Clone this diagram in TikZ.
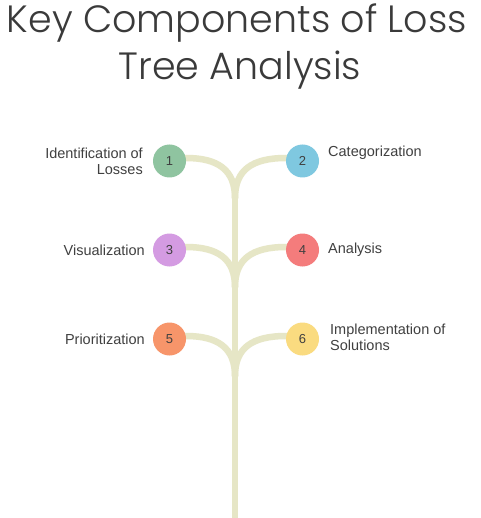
\documentclass[tikz,border=0pt]{standalone}
\usepackage{fontspec}
\setmainfont{Liberation Sans}
\newfontfamily\titlefont{Poppins}[UprightFont=* Light]
\definecolor{branchc}{HTML}{E6E6C6}
\definecolor{txtc}{HTML}{404040}
\definecolor{titlec}{HTML}{3A3A3A}
\definecolor{c1}{HTML}{8FC4A0}
\definecolor{c2}{HTML}{7FC8E0}
\definecolor{c3}{HTML}{D49BE2}
\definecolor{c4}{HTML}{F47C7C}
\definecolor{c5}{HTML}{F7956A}
\definecolor{c6}{HTML}{FADB80}
\begin{document}
\begin{tikzpicture}[x=1pt,y=-1pt,
  numc/.style={circle,minimum size=33pt,inner sep=0pt,font=\fontsize{13}{13}\selectfont,text=txtc},
  lbl/.style={font=\fontsize{14.5}{16}\selectfont,text=txtc,inner sep=0pt},
  branch/.style={draw=branchc,line width=6.5pt,line cap=round},
  ttl/.style={font=\titlefont\fontsize{38}{38}\selectfont,text=titlec,inner sep=0pt,anchor=base}]
\useasboundingbox[fill=white] (0,0) rectangle (480,518);
% title
\node[ttl] (t1) at (237,33) {Key Components of Loss};
\node[ttl] (t2) at (240,80) {Tree Analysis};
% junction coordinates
\coordinate (j1) at (235,198);
\coordinate (j2) at (235,287);
\coordinate (j3) at (235,376);
\coordinate (bot) at (235,520);
% trunk
\draw[branch,line cap=butt] (j1) -- (bot);
% branches
\foreach \y/\j in {161/j1,250/j2,339/j3}{
  \draw[branch] (186,\y-3) .. controls (218,\y-3) and (235,\y+9) .. (\j);
  \draw[branch] (286,\y-3) .. controls (252,\y-3) and (235,\y+9) .. (\j);
}
% circles
\node[numc,fill=c1] (n1) at (169.5,161) {1};
\node[numc,fill=c2] (n2) at (302.5,161) {2};
\node[numc,fill=c3] (n3) at (169.5,250) {3};
\node[numc,fill=c4] (n4) at (302.5,250) {4};
\node[numc,fill=c5] (n5) at (169.5,339) {5};
\node[numc,fill=c6] (n6) at (302.5,339) {6};
% labels
\node[lbl,anchor=east,align=right] (l1) at (143,161) {Identification of\\Losses};
\node[lbl,anchor=west,align=left] (l2) at (328,153) {Categorization};
\node[lbl,anchor=east] (l3) at (145,250) {Visualization};
\node[lbl,anchor=west] (l4) at (328,250) {Analysis};
\node[lbl,anchor=east] (l5) at (145,339) {Prioritization};
\node[lbl,anchor=west,align=left] (l6) at (330,337) {Implementation of\\Solutions};
\end{tikzpicture}
\end{document}
